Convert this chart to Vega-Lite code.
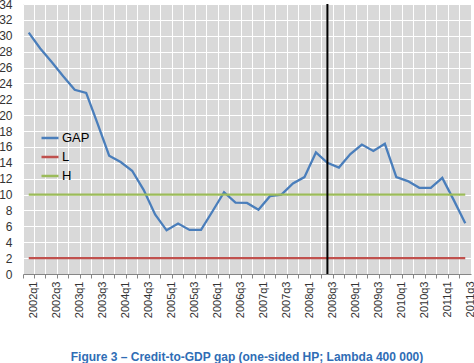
{
  "$schema": "https://vega.github.io/schema/vega-lite/v6.json",
  "width": 448,
  "height": 270,
  "autosize": {"type": "none"},
  "padding": {"left": 23, "top": 4, "right": 3, "bottom": 89},
  "background": "white",
  "config": {
    "view": {"fill": "#d9d9d9", "stroke": null},
    "font": "Liberation Sans"
  },
  "title": {
    "text": "Figure 3 – Credit-to-GDP gap (one-sided HP; Lambda 400 000)",
    "orient": "bottom",
    "anchor": "middle",
    "fontSize": 12,
    "fontWeight": "bold",
    "color": "#2f6db5",
    "font": "Liberation Sans Narrow, Liberation Sans",
    "offset": 34
  },
  "datasets": {
    "series": [
      {"quarter": "2002q1", "series": "GAP", "value": 30.4},
      {"quarter": "2002q2", "series": "GAP", "value": 28.4},
      {"quarter": "2002q3", "series": "GAP", "value": 26.7},
      {"quarter": "2002q4", "series": "GAP", "value": 24.9},
      {"quarter": "2003q1", "series": "GAP", "value": 23.2},
      {"quarter": "2003q2", "series": "GAP", "value": 22.8},
      {"quarter": "2003q3", "series": "GAP", "value": 18.9},
      {"quarter": "2003q4", "series": "GAP", "value": 14.9},
      {"quarter": "2004q1", "series": "GAP", "value": 14.1},
      {"quarter": "2004q2", "series": "GAP", "value": 13.0},
      {"quarter": "2004q3", "series": "GAP", "value": 10.6},
      {"quarter": "2004q4", "series": "GAP", "value": 7.5},
      {"quarter": "2005q1", "series": "GAP", "value": 5.5},
      {"quarter": "2005q2", "series": "GAP", "value": 6.35},
      {"quarter": "2005q3", "series": "GAP", "value": 5.55},
      {"quarter": "2005q4", "series": "GAP", "value": 5.55},
      {"quarter": "2006q1", "series": "GAP", "value": 7.9},
      {"quarter": "2006q2", "series": "GAP", "value": 10.3},
      {"quarter": "2006q3", "series": "GAP", "value": 9.0},
      {"quarter": "2006q4", "series": "GAP", "value": 8.95},
      {"quarter": "2007q1", "series": "GAP", "value": 8.1},
      {"quarter": "2007q2", "series": "GAP", "value": 9.8},
      {"quarter": "2007q3", "series": "GAP", "value": 10.0},
      {"quarter": "2007q4", "series": "GAP", "value": 11.4},
      {"quarter": "2008q1", "series": "GAP", "value": 12.2},
      {"quarter": "2008q2", "series": "GAP", "value": 15.3},
      {"quarter": "2008q3", "series": "GAP", "value": 14.0},
      {"quarter": "2008q4", "series": "GAP", "value": 13.4},
      {"quarter": "2009q1", "series": "GAP", "value": 15.1},
      {"quarter": "2009q2", "series": "GAP", "value": 16.3},
      {"quarter": "2009q3", "series": "GAP", "value": 15.5},
      {"quarter": "2009q4", "series": "GAP", "value": 16.4},
      {"quarter": "2010q1", "series": "GAP", "value": 12.2},
      {"quarter": "2010q2", "series": "GAP", "value": 11.7},
      {"quarter": "2010q3", "series": "GAP", "value": 10.85},
      {"quarter": "2010q4", "series": "GAP", "value": 10.85},
      {"quarter": "2011q1", "series": "GAP", "value": 12.1},
      {"quarter": "2011q2", "series": "GAP", "value": 9.3},
      {"quarter": "2011q3", "series": "GAP", "value": 6.4},
      {"quarter": "2002q1", "series": "L", "value": 2},
      {"quarter": "2002q2", "series": "L", "value": 2},
      {"quarter": "2002q3", "series": "L", "value": 2},
      {"quarter": "2002q4", "series": "L", "value": 2},
      {"quarter": "2003q1", "series": "L", "value": 2},
      {"quarter": "2003q2", "series": "L", "value": 2},
      {"quarter": "2003q3", "series": "L", "value": 2},
      {"quarter": "2003q4", "series": "L", "value": 2},
      {"quarter": "2004q1", "series": "L", "value": 2},
      {"quarter": "2004q2", "series": "L", "value": 2},
      {"quarter": "2004q3", "series": "L", "value": 2},
      {"quarter": "2004q4", "series": "L", "value": 2},
      {"quarter": "2005q1", "series": "L", "value": 2},
      {"quarter": "2005q2", "series": "L", "value": 2},
      {"quarter": "2005q3", "series": "L", "value": 2},
      {"quarter": "2005q4", "series": "L", "value": 2},
      {"quarter": "2006q1", "series": "L", "value": 2},
      {"quarter": "2006q2", "series": "L", "value": 2},
      {"quarter": "2006q3", "series": "L", "value": 2},
      {"quarter": "2006q4", "series": "L", "value": 2},
      {"quarter": "2007q1", "series": "L", "value": 2},
      {"quarter": "2007q2", "series": "L", "value": 2},
      {"quarter": "2007q3", "series": "L", "value": 2},
      {"quarter": "2007q4", "series": "L", "value": 2},
      {"quarter": "2008q1", "series": "L", "value": 2},
      {"quarter": "2008q2", "series": "L", "value": 2},
      {"quarter": "2008q3", "series": "L", "value": 2},
      {"quarter": "2008q4", "series": "L", "value": 2},
      {"quarter": "2009q1", "series": "L", "value": 2},
      {"quarter": "2009q2", "series": "L", "value": 2},
      {"quarter": "2009q3", "series": "L", "value": 2},
      {"quarter": "2009q4", "series": "L", "value": 2},
      {"quarter": "2010q1", "series": "L", "value": 2},
      {"quarter": "2010q2", "series": "L", "value": 2},
      {"quarter": "2010q3", "series": "L", "value": 2},
      {"quarter": "2010q4", "series": "L", "value": 2},
      {"quarter": "2011q1", "series": "L", "value": 2},
      {"quarter": "2011q2", "series": "L", "value": 2},
      {"quarter": "2011q3", "series": "L", "value": 2},
      {"quarter": "2002q1", "series": "H", "value": 10},
      {"quarter": "2002q2", "series": "H", "value": 10},
      {"quarter": "2002q3", "series": "H", "value": 10},
      {"quarter": "2002q4", "series": "H", "value": 10},
      {"quarter": "2003q1", "series": "H", "value": 10},
      {"quarter": "2003q2", "series": "H", "value": 10},
      {"quarter": "2003q3", "series": "H", "value": 10},
      {"quarter": "2003q4", "series": "H", "value": 10},
      {"quarter": "2004q1", "series": "H", "value": 10},
      {"quarter": "2004q2", "series": "H", "value": 10},
      {"quarter": "2004q3", "series": "H", "value": 10},
      {"quarter": "2004q4", "series": "H", "value": 10},
      {"quarter": "2005q1", "series": "H", "value": 10},
      {"quarter": "2005q2", "series": "H", "value": 10},
      {"quarter": "2005q3", "series": "H", "value": 10},
      {"quarter": "2005q4", "series": "H", "value": 10},
      {"quarter": "2006q1", "series": "H", "value": 10},
      {"quarter": "2006q2", "series": "H", "value": 10},
      {"quarter": "2006q3", "series": "H", "value": 10},
      {"quarter": "2006q4", "series": "H", "value": 10},
      {"quarter": "2007q1", "series": "H", "value": 10},
      {"quarter": "2007q2", "series": "H", "value": 10},
      {"quarter": "2007q3", "series": "H", "value": 10},
      {"quarter": "2007q4", "series": "H", "value": 10},
      {"quarter": "2008q1", "series": "H", "value": 10},
      {"quarter": "2008q2", "series": "H", "value": 10},
      {"quarter": "2008q3", "series": "H", "value": 10},
      {"quarter": "2008q4", "series": "H", "value": 10},
      {"quarter": "2009q1", "series": "H", "value": 10},
      {"quarter": "2009q2", "series": "H", "value": 10},
      {"quarter": "2009q3", "series": "H", "value": 10},
      {"quarter": "2009q4", "series": "H", "value": 10},
      {"quarter": "2010q1", "series": "H", "value": 10},
      {"quarter": "2010q2", "series": "H", "value": 10},
      {"quarter": "2010q3", "series": "H", "value": 10},
      {"quarter": "2010q4", "series": "H", "value": 10},
      {"quarter": "2011q1", "series": "H", "value": 10},
      {"quarter": "2011q2", "series": "H", "value": 10},
      {"quarter": "2011q3", "series": "H", "value": 10}
    ],
    "marker": [{"quarter": "2008q3"}]
  },
  "layer": [
    {
      "data": {"name": "series"},
      "mark": {"type": "line", "strokeWidth": 2.3},
      "encoding": {
        "x": {
          "field": "quarter",
          "type": "ordinal",
          "scale": {"type": "band", "paddingInner": 0, "paddingOuter": 0},
          "axis": {
            "title": null,
            "labelAngle": -90,
            "labelExpr": "indexof(datum.value, 'q2') >= 0 || indexof(datum.value, 'q4') >= 0 ? '' : datum.value",
            "bandPosition": 0,
            "labelOffset": 5.75,
            "tickSize": 4,
            "tickColor": "#868686",
            "domainColor": "#868686",
            "gridColor": "white",
            "gridWidth": 1,
            "grid": true,
            "labelFontSize": 11,
            "labelPadding": 3,
            "labelColor": "#333333"
          }
        },
        "y": {
          "field": "value",
          "type": "quantitative",
          "scale": {"domain": [0, 34], "nice": false},
          "axis": {
            "title": null,
            "values": [0, 2, 4, 6, 8, 10, 12, 14, 16, 18, 20, 22, 24, 26, 28, 30, 32, 34],
            "domain": false,
            "ticks": false,
            "tickSize": 0,
            "labelPadding": 11,
            "labelFontSize": 12,
            "labelColor": "#333333",
            "gridColor": "white",
            "gridWidth": 1
          }
        },
        "color": {
          "field": "series",
          "type": "nominal",
          "scale": {"domain": ["GAP", "L", "H"], "range": ["#4a7ebb", "#c0504d", "#9bbb59"]},
          "legend": {
            "title": null,
            "orient": "none",
            "legendX": 17,
            "legendY": 124,
            "symbolType": "stroke",
            "symbolSize": 289,
            "symbolStrokeWidth": 2.5,
            "labelFontSize": 13,
            "labelColor": "#000000",
            "labelOffset": 2,
            "rowPadding": 2
          }
        }
      }
    },
    {
      "data": {"name": "marker"},
      "mark": {"type": "rule", "color": "black", "strokeWidth": 2},
      "encoding": {
        "x": {"field": "quarter", "type": "ordinal"}
      }
    }
  ]
}
